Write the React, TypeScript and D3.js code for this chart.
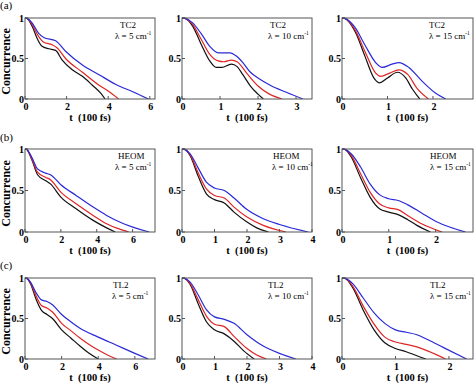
import React from "react";
import * as d3 from "d3";

// ---------- data (t in 100 fs, concurrence) ----------
const tc2_5_black = [[0,1],[0.1,0.995],[0.34,0.9],[0.58,0.75],[0.82,0.65],[1.15,0.62],[1.47,0.6],[1.79,0.48],[2.27,0.36],[2.76,0.28],[3.24,0.17],[3.65,0.07],[3.85,0]];
const tc2_5_red = [[0,1],[0.1,0.995],[0.34,0.92],[0.66,0.77],[0.9,0.7],[1.3,0.67],[1.55,0.63],[1.95,0.5],[2.76,0.33],[3.56,0.17],[4.05,0.09],[4.5,0]];
const tc2_5_blue = [[0,1],[0.1,0.995],[0.34,0.94],[0.66,0.81],[0.9,0.76],[1.47,0.72],[1.95,0.59],[2.76,0.42],[3.56,0.3],[4.37,0.18],[5.18,0.09],[5.94,0]];

const tc2_10_black = [[0,1],[0.08,0.995],[0.28,0.9],[0.5,0.68],[0.73,0.47],[0.9,0.39],[1.05,0.39],[1.3,0.43],[1.45,0.4],[1.6,0.3],[1.8,0.16],[2.0,0.06],[2.14,0]];
const tc2_10_red = [[0,1],[0.08,0.995],[0.28,0.92],[0.5,0.74],[0.73,0.55],[0.95,0.47],[1.1,0.46],[1.3,0.48],[1.45,0.46],[1.7,0.32],[2.0,0.16],[2.3,0.06],[2.63,0]];
const tc2_10_blue = [[0,1],[0.08,0.995],[0.28,0.94],[0.5,0.81],[0.73,0.65],[0.95,0.57],[1.26,0.57],[1.43,0.53],[1.6,0.45],[1.8,0.33],[2.0,0.26],[2.32,0.17],[2.76,0.08],[3.18,0]];

const tc2_15_black = [[0,1],[0.06,0.995],[0.29,0.83],[0.51,0.52],[0.7,0.26],[0.82,0.2],[1.0,0.26],[1.22,0.33],[1.4,0.26],[1.55,0.12],[1.71,0]];
const tc2_15_red = [[0,1],[0.06,0.995],[0.29,0.85],[0.51,0.58],[0.74,0.32],[0.85,0.28],[1.05,0.32],[1.25,0.36],[1.45,0.3],[1.65,0.13],[1.9,0]];
const tc2_15_blue = [[0,1],[0.06,0.995],[0.29,0.88],[0.51,0.66],[0.74,0.45],[0.88,0.39],[1.1,0.43],[1.25,0.45],[1.47,0.39],[1.76,0.22],[2.06,0.07],[2.28,0]];

const heom_5_black = [[0,1],[0.1,0.995],[0.2,0.96],[0.4,0.86],[0.7,0.69],[1.14,0.62],[1.42,0.58],[2.0,0.42],[2.85,0.28],[3.8,0.14],[4.55,0.05],[5.03,0]];
const heom_5_red = [[0,1],[0.1,0.995],[0.2,0.965],[0.4,0.87],[0.7,0.72],[1.14,0.66],[1.42,0.63],[2.0,0.48],[2.85,0.34],[3.8,0.2],[4.55,0.1],[5.2,0.04],[5.79,0]];
const heom_5_blue = [[0,1],[0.1,0.995],[0.2,0.97],[0.4,0.89],[0.7,0.76],[1.14,0.71],[1.42,0.69],[2.0,0.57],[2.85,0.44],[3.8,0.3],[4.55,0.2],[5.5,0.1],[6.93,0]];

const heom_10_black = [[0,1],[0.08,0.995],[0.25,0.92],[0.5,0.67],[0.75,0.46],[1.0,0.39],[1.3,0.35],[1.6,0.24],[2.0,0.12],[2.3,0.05],[2.66,0]];
const heom_10_red = [[0,1],[0.08,0.995],[0.25,0.93],[0.5,0.71],[0.75,0.52],[1.0,0.44],[1.3,0.41],[1.6,0.3],[2.0,0.18],[2.5,0.08],[3.2,0]];
const heom_10_blue = [[0,1],[0.08,0.995],[0.25,0.94],[0.5,0.77],[0.75,0.6],[1.0,0.53],[1.3,0.5],[1.6,0.41],[2.0,0.27],[2.5,0.16],[3.0,0.09],[3.88,0]];

const heom_15_black = [[0,1],[0.06,0.995],[0.2,0.9],[0.4,0.65],[0.6,0.42],[0.8,0.28],[1.0,0.24],[1.2,0.21],[1.4,0.15],[1.6,0.08],[1.89,0]];
const heom_15_red = [[0,1],[0.06,0.995],[0.2,0.92],[0.4,0.7],[0.6,0.48],[0.8,0.34],[1.0,0.29],[1.2,0.27],[1.4,0.2],[1.7,0.1],[2.14,0]];
const heom_15_blue = [[0,1],[0.06,0.995],[0.2,0.94],[0.4,0.78],[0.6,0.58],[0.8,0.45],[1.0,0.4],[1.2,0.38],[1.4,0.33],[1.7,0.23],[2.0,0.13],[2.3,0.06],[2.64,0]];

const tl2_5_black = [[0,1],[0.1,0.995],[0.3,0.93],[0.6,0.74],[0.9,0.6],[1.2,0.55],[1.5,0.5],[2.0,0.36],[2.5,0.26],[3.0,0.16],[3.5,0.07],[4.0,0]];
const tl2_5_red = [[0,1],[0.1,0.995],[0.3,0.94],[0.6,0.78],[0.9,0.66],[1.2,0.63],[1.5,0.58],[2.0,0.44],[2.5,0.35],[3.0,0.26],[3.5,0.18],[4.0,0.11],[4.5,0.05],[5.0,0]];
const tl2_5_blue = [[0,1],[0.1,0.995],[0.3,0.95],[0.6,0.82],[0.9,0.73],[1.2,0.71],[1.5,0.67],[2.0,0.55],[2.5,0.46],[3.0,0.38],[4.0,0.27],[5.0,0.17],[6.0,0.07],[6.72,0]];

const tl2_10_black = [[0,1],[0.08,0.995],[0.25,0.92],[0.5,0.68],[0.75,0.46],[1.0,0.36],[1.3,0.31],[1.6,0.22],[1.9,0.1],[2.22,0]];
const tl2_10_red = [[0,1],[0.08,0.995],[0.25,0.93],[0.5,0.73],[0.75,0.53],[1.0,0.43],[1.3,0.4],[1.6,0.28],[2.0,0.13],[2.3,0.05],[2.6,0]];
const tl2_10_blue = [[0,1],[0.08,0.995],[0.25,0.95],[0.5,0.79],[0.75,0.61],[1.0,0.52],[1.3,0.49],[1.6,0.44],[2.0,0.3],[2.5,0.16],[3.0,0.07],[3.5,0]];

const tl2_15_black = [[0,1],[0.06,0.995],[0.2,0.88],[0.4,0.6],[0.6,0.36],[0.8,0.2],[1.0,0.13],[1.2,0.09],[1.4,0.04],[1.57,0]];
const tl2_15_red = [[0,1],[0.06,0.995],[0.2,0.9],[0.4,0.65],[0.6,0.43],[0.8,0.27],[1.0,0.21],[1.2,0.18],[1.4,0.15],[1.6,0.1],[1.94,0]];
const tl2_15_blue = [[0,1],[0.06,0.995],[0.2,0.93],[0.4,0.75],[0.6,0.57],[0.8,0.44],[1.0,0.36],[1.2,0.33],[1.4,0.3],[1.6,0.24],[1.9,0.14],[2.33,0]];

const methods = ["TC2", "HEOM", "TL2"];
const rowTags = ["(a)", "(b)", "(c)"];
const lambdaLabels = ["λ = 5 cm", "λ = 10 cm", "λ = 15 cm"];
const xMaxes = [[6.25, 3.42, 2.88], [7.25, 4, 2.8], [7.1, 4, 2.45]];
const xTickValues = [[[0, 2, 4, 6], [0, 1, 2, 3], [0, 1, 2]], [[0, 2, 4, 6], [0, 1, 2, 3, 4], [0, 1, 2]], [[0, 2, 4, 6], [0, 1, 2, 3, 4], [0, 1, 2]]];
const yTickValues = [0, 0.5, 1];
const yTickLabels = ["0", "0.5", "1"];
const panelSeries = [
  [[tc2_5_black, tc2_5_red, tc2_5_blue], [tc2_10_black, tc2_10_red, tc2_10_blue], [tc2_15_black, tc2_15_red, tc2_15_blue]],
  [[heom_5_black, heom_5_red, heom_5_blue], [heom_10_black, heom_10_red, heom_10_blue], [heom_15_black, heom_15_red, heom_15_blue]],
  [[tl2_5_black, tl2_5_red, tl2_5_blue], [tl2_10_black, tl2_10_red, tl2_10_blue], [tl2_15_black, tl2_15_red, tl2_15_blue]],
];

// ---------- layout ----------
const colLeft = [25, 182, 342];
const colRight = [155, 312, 473];
const rowTop = [18, 149, 278];
const rowBottom = [99, 232, 359];
const methodDx = [[95, 88, 87], [93, 91, 88], [88, 86, 88]];
const lambdaDx = [[90, 86, 87], [90, 90, 88], [87, 86, 88]];
const tagY = [9, 141, 269];
const seriesColors = ["#111111", "#e02525", "#2a2ad8"];
const FONT = "'Liberation Serif', 'Times New Roman', serif";

function Panel({ r, c }: { r: number; c: number }) {
  const x = d3.scaleLinear().domain([0, xMaxes[r][c]]).range([colLeft[c], colRight[c]]);
  const y = d3.scaleLinear().domain([0, 1]).range([rowBottom[r], rowTop[r]]);
  const line = d3
    .line<number[]>()
    .x((d) => x(d[0]))
    .y((d) => y(d[1]))
    .curve(d3.curveMonotoneX);
  const clipId = `clip-${r}-${c}`;
  const left = colLeft[c];
  const top = rowTop[r];
  const bottom = rowBottom[r];
  const right = colRight[c];
  return (
    <g>
      <defs>
        <clipPath id={clipId}>
          <rect x={left} y={top - 1} width={right - left} height={bottom - top + 1} />
        </clipPath>
      </defs>
      <g clipPath={`url(#${clipId})`}>
        {panelSeries[r][c].map((s, i) => (
          <path key={i} d={line(s as number[][]) || ""} fill="none" stroke={seriesColors[i]} strokeWidth={1.2} />
        ))}
      </g>
      <rect x={left} y={top} width={right - left} height={bottom - top} fill="none" stroke="#555" strokeWidth={1} />
      {xTickValues[r][c].map((v) => (
        <g key={"x" + v}>
          <line x1={x(v)} x2={x(v)} y1={bottom} y2={bottom - 3} stroke="#555" />
          <text x={x(v) + 1} y={bottom + 11} textAnchor="middle" fontSize={10} fontWeight="bold" fontFamily={FONT} fill="#000">
            {v}
          </text>
        </g>
      ))}
      {yTickValues.map((v, i) => (
        <g key={"y" + v}>
          <line x1={left} x2={left + 3} y1={y(v)} y2={y(v)} stroke="#555" />
          <text x={left - 1} y={y(v) + 3.5} textAnchor="end" fontSize={10} fontWeight="bold" fontFamily={FONT} fill="#000">
            {yTickLabels[i]}
          </text>
        </g>
      ))}
      <text x={(left + right) / 2} y={bottom + 22} textAnchor="middle" fontSize={10.5} fontWeight="bold" fontFamily={FONT} fill="#000" xmlSpace="preserve">
        t  (100 fs)
      </text>
      <text x={left + methodDx[r][c]} y={top + 10} fontSize={9} fontFamily={FONT} fill="#000">
        {methods[r]}
      </text>
      <text x={left + lambdaDx[r][c]} y={top + 20.5} fontSize={9} fontFamily={FONT} fill="#000">
        {lambdaLabels[c]}
        <tspan dy={-3.5} fontSize={5.5}>-1</tspan>
      </text>
    </g>
  );
}

export default function App() {
  return (
    <svg width={474} height={383} style={{ position: "absolute", left: 0, top: 0, background: "#fff" }}>
      <rect x={0} y={0} width={474} height={383} fill="#fff" />
      {[0, 1, 2].map((r) => (
        <g key={r}>
          <text x={0} y={tagY[r]} fontSize={11} fontFamily={FONT} fill="#000">
            {rowTags[r]}
          </text>
          <text
            transform={`translate(9.5, ${(rowTop[r] + rowBottom[r]) / 2 + 3}) rotate(-90)`}
            textAnchor="middle"
            fontSize={12}
            fontWeight="bold"
            fontFamily={FONT}
            fill="#000"
          >
            Concurrence
          </text>
          {[0, 1, 2].map((c) => (
            <Panel key={c} r={r} c={c} />
          ))}
        </g>
      ))}
    </svg>
  );
}
